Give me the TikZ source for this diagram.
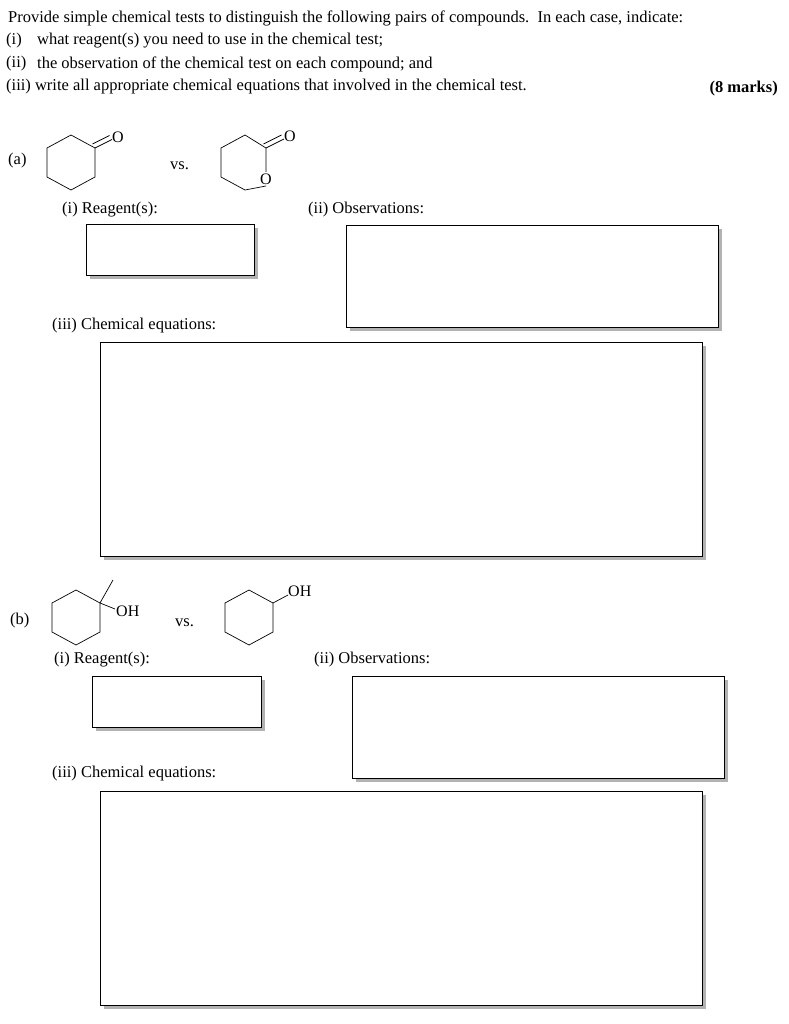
\documentclass[tikz,border=0pt]{standalone}
\usepackage{fontspec}
\setmainfont{Liberation Serif}
\begin{document}
\begin{tikzpicture}[x=1pt,y=-1pt,
  txt/.style={anchor=west,inner sep=0pt,font=\fontsize{16.5}{18}\selectfont},
  ans/.style={draw=black,line width=0.8pt,fill=white},
  shad/.style={fill=gray!60,draw=none},
  bond/.style={line width=0.7pt},
  atom/.style={inner sep=0pt,font=\fontsize{16}{18}\selectfont}]
\useasboundingbox (0,0) rectangle (788,1024);
\fill[white] (0,0) rectangle (788,1024);
% header
\node[txt] (l1) at (8,18) {Provide simple chemical tests to distinguish the following pairs of compounds.\ \ In each case, indicate:};
\node[txt] (r1) at (6,41) {(i)};
\node[txt] (t1) at (37,41) {what reagent(s) you need to use in the chemical test;};
\node[txt] (r2) at (6,64) {(ii)};
\node[txt] (t2) at (37,64) {the observation of the chemical test on each compound; and};
\node[txt] (r3) at (6,87) {(iii) write all appropriate chemical equations that involved in the chemical test.};
\node[txt,anchor=east] (mk) at (778,89) {\bfseries (8 marks)};
% answer boxes
\foreach \n/\a/\b/\c/\d in {ra/86/224/254/275, oa/346/225/718/327, ea/100/342/702/556,
  rb/92/676/261/727, ob/352/676/724/778, eb/100/791/702/1005}{
  \fill[shad] (\a+4,\b+4) rectangle (\c+4,\d+4);
  \draw[ans] (\a,\b) rectangle (\c,\d);
  \coordinate (\n) at (\a,\b);
}
% (a) labels
\node[txt] (pa) at (8,161) {(a)};
\node[txt] (vsa) at (170,166) {vs.};
\node[txt] (ia) at (62,210) {(i) Reagent(s):};
\node[txt] (iia) at (308,210) {(ii) Observations:};
\node[txt] (iiia) at (52,326) {(iii) Chemical equations:};
% (b) labels
\node[txt] (pb) at (10,621) {(b)};
\node[txt] (vsb) at (175,623) {vs.};
\node[txt] (ib) at (54,660) {(i) Reagent(s):};
\node[txt] (iib) at (314,660) {(ii) Observations:};
\node[txt] (iiib) at (52,774) {(iii) Chemical equations:};
% cyclohexanone
\draw[bond] (71,135) -- (95,148) -- (95,177) -- (71,190) -- (47,177) -- (47,148) -- cycle;
\node[atom] (Oa) at (118,137) {O};
\draw[bond] (95,148) -- (112,139.5);
\draw[bond] (92.5,144) -- (109.5,135.5);
% lactone
\node[atom] (Or) at (266,179) {O};
\draw[bond] (245,135) -- (266,148) -- (266,172);
\draw[bond] (266,186) -- (245,190) -- (221,177) -- (221,148) -- (245,135);
\node[atom] (Ob) at (290,136) {O};
\draw[bond] (266,148) -- (284,139);
\draw[bond] (263.5,144) -- (281.5,135);
% 1-methylcyclohexanol
\draw[bond] (76,590) -- (100,603) -- (100,632) -- (76,645) -- (52,632) -- (52,603) -- cycle;
\draw[bond] (100,603) -- (113,580);
\draw[bond] (100,603) -- (115,609);
\node[atom,anchor=west] (OHb1) at (116,611) {OH};
% cyclohexanol
\draw[bond] (249,590) -- (273,603) -- (273,632) -- (249,645) -- (225,632) -- (225,603) -- cycle;
\draw[bond] (273,603) -- (288,595);
\node[atom,anchor=west] (OHb2) at (288,591) {OH};
\end{tikzpicture}
\end{document}
